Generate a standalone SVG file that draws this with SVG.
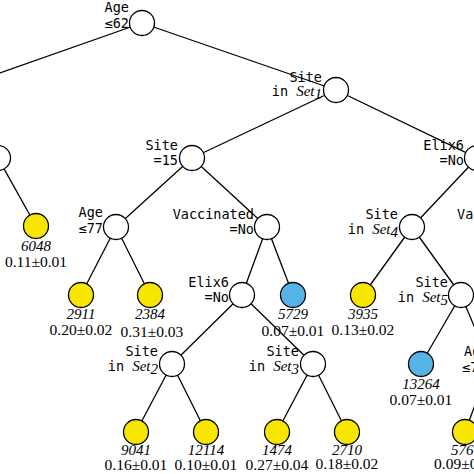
<svg xmlns="http://www.w3.org/2000/svg" width="474" height="474" viewBox="0 0 474 474">
<style>
.n{fill:#fff;stroke:#000;stroke-width:1.3}
.y{fill:#f9e600;stroke:#000;stroke-width:1.3}
.b{fill:#55b3e6;stroke:#000;stroke-width:1.3}
.l{font-family:"DejaVu Sans Mono","Liberation Mono",monospace;font-size:13.5px;text-anchor:end}
.s{font-family:"Liberation Serif",serif;font-style:italic;font-size:15px}
.c{font-family:"Liberation Serif",serif;font-style:italic;font-size:15px;text-anchor:middle}
.v{font-family:"Liberation Serif",serif;font-size:15.5px;text-anchor:middle}
#e line{stroke:#000;stroke-width:1.3}
</style>
<rect width="474" height="474" fill="#fff"/>
<g id="e">
<line x1="142" y1="23" x2="0" y2="73"/>
<line x1="142" y1="23" x2="336" y2="90"/>
<line x1="336" y1="90" x2="192" y2="158"/>
<line x1="336" y1="90" x2="477" y2="158"/>
<line x1="-2" y1="158" x2="36" y2="226"/>
<line x1="192" y1="158" x2="116" y2="227"/>
<line x1="192" y1="158" x2="267" y2="227"/>
<line x1="477" y1="158" x2="412" y2="227"/>
<line x1="116" y1="227" x2="81" y2="295"/>
<line x1="116" y1="227" x2="150" y2="295"/>
<line x1="267" y1="227" x2="242" y2="295"/>
<line x1="267" y1="227" x2="293" y2="295"/>
<line x1="412" y1="227" x2="363" y2="295"/>
<line x1="412" y1="227" x2="461" y2="295"/>
<line x1="242" y1="295" x2="172" y2="364"/>
<line x1="242" y1="295" x2="313" y2="364"/>
<line x1="461" y1="295" x2="421" y2="364"/>
<line x1="461" y1="295" x2="490" y2="364"/>
<line x1="172" y1="364" x2="136" y2="432"/>
<line x1="172" y1="364" x2="206" y2="432"/>
<line x1="313" y1="364" x2="277" y2="432"/>
<line x1="313" y1="364" x2="347" y2="432"/>
<line x1="490" y1="364" x2="465" y2="432"/>
</g>
<g id="root"><circle class="n" cx="142" cy="23" r="12.5"/><text class="l" x="129" y="12">Age</text><text class="l" x="129" y="28">≤62</text></g>
<g id="set1"><circle class="n" cx="336" cy="90" r="12.5"/><text class="l" x="322" y="82">Site</text><text class="l" x="322" y="96"><tspan>in </tspan><tspan class="s">Set</tspan><tspan class="s" font-size="10" dy="3">1</tspan></text></g>
<g id="nl"><circle class="n" cx="-2" cy="158" r="12.5"/></g>
<g id="site15"><circle class="n" cx="192" cy="158" r="12.5"/><text class="l" x="178" y="150">Site</text><text class="l" x="178" y="165">=15</text></g>
<g id="elixr"><circle class="n" cx="477" cy="158" r="12.5"/><text class="l" x="464" y="150">Elix6</text><text class="l" x="464" y="165">=No</text></g>
<g id="l6048"><circle class="y" cx="36" cy="226" r="12.5"/><text class="c" x="36" y="251">6048</text><text class="v" x="36" y="267">0.11±0.01</text></g>
<g id="age77"><circle class="n" cx="116" cy="227" r="12.5"/><text class="l" x="103" y="217">Age</text><text class="l" x="103" y="233">≤77</text></g>
<g id="vacc"><circle class="n" cx="267" cy="227" r="12.5"/><text class="l" x="254" y="219">Vaccinated</text><text class="l" x="254" y="234">=No</text></g>
<g id="set4"><circle class="n" cx="412" cy="227" r="12.5"/><text class="l" x="398" y="219">Site</text><text class="l" x="398" y="234"><tspan>in </tspan><tspan class="s">Set</tspan><tspan class="s" font-size="10" dy="3">4</tspan></text></g>
<g id="var"><text class="l" x="457" y="219" style="text-anchor:start">Va</text></g>
<g id="l2911"><circle class="y" cx="81" cy="295" r="12.5"/><text class="c" x="81" y="319">2911</text><text class="v" x="81" y="335">0.20±0.02</text></g>
<g id="l2384"><circle class="y" cx="150" cy="295" r="12.5"/><text class="c" x="150" y="319">2384</text><text class="v" x="152" y="337">0.31±0.03</text></g>
<g id="elix"><circle class="n" cx="242" cy="295" r="12.5"/><text class="l" x="229" y="287">Elix6</text><text class="l" x="229" y="302">=No</text></g>
<g id="l5729"><circle class="b" cx="293" cy="295" r="12.5"/><text class="c" x="293" y="319">5729</text><text class="v" x="293" y="336">0.07±0.01</text></g>
<g id="l3935"><circle class="y" cx="363" cy="295" r="12.5"/><text class="c" x="363" y="319">3935</text><text class="v" x="363" y="335">0.13±0.02</text></g>
<g id="set5"><circle class="n" cx="461" cy="295" r="12.5"/><text class="l" x="448" y="287">Site</text><text class="l" x="448" y="302"><tspan>in </tspan><tspan class="s">Set</tspan><tspan class="s" font-size="10" dy="3">5</tspan></text></g>
<g id="set2"><circle class="n" cx="172" cy="364" r="12.5"/><text class="l" x="158" y="356">Site</text><text class="l" x="158" y="371"><tspan>in </tspan><tspan class="s">Set</tspan><tspan class="s" font-size="10" dy="3">2</tspan></text></g>
<g id="set3"><circle class="n" cx="313" cy="364" r="12.5"/><text class="l" x="299" y="356">Site</text><text class="l" x="299" y="371"><tspan>in </tspan><tspan class="s">Set</tspan><tspan class="s" font-size="10" dy="3">3</tspan></text></g>
<g id="l13264"><circle class="b" cx="421" cy="364" r="12.5"/><text class="c" x="421" y="389">13264</text><text class="v" x="421" y="405">0.07±0.01</text></g>
<g id="ager"><text class="l" x="464" y="356" style="text-anchor:start">Age</text><text class="l" x="462" y="372" style="text-anchor:start">≤7</text></g>
<g id="l9041"><circle class="y" cx="136" cy="432" r="12.5"/><text class="c" x="136" y="455">9041</text><text class="v" x="136" y="470">0.16±0.01</text></g>
<g id="l12114"><circle class="y" cx="206" cy="432" r="12.5"/><text class="c" x="206" y="455">12114</text><text class="v" x="206" y="470">0.10±0.01</text></g>
<g id="l1474"><circle class="y" cx="277" cy="432" r="12.5"/><text class="c" x="277" y="455">1474</text><text class="v" x="277" y="470">0.27±0.04</text></g>
<g id="l2710"><circle class="y" cx="347" cy="432" r="12.5"/><text class="c" x="347" y="455">2710</text><text class="v" x="347" y="469">0.18±0.02</text></g>
<g id="l576"><circle class="y" cx="465" cy="432" r="12.5"/><text class="s" x="451" y="455">5767</text><text class="v" x="434" y="469" style="text-anchor:start">0.09±0.01</text></g>
</svg>
